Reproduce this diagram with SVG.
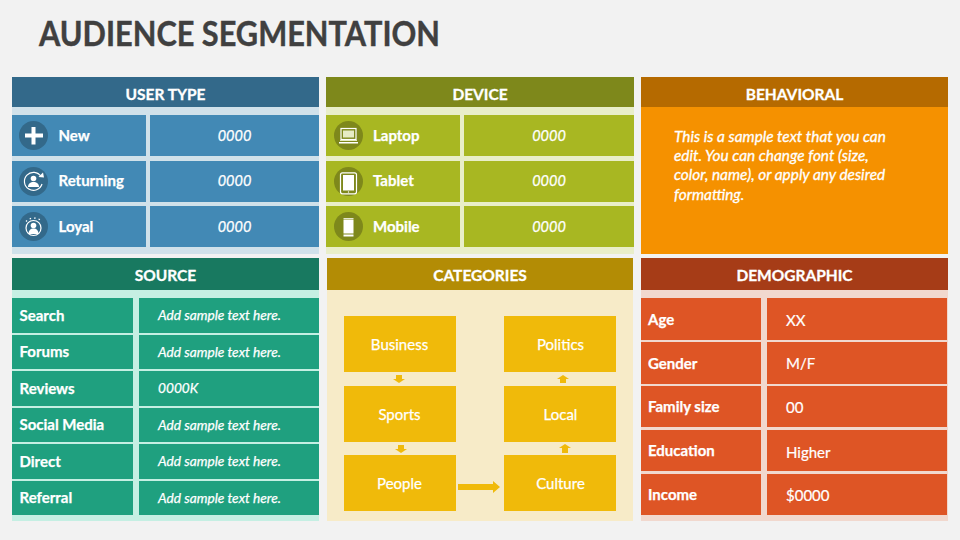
<svg xmlns="http://www.w3.org/2000/svg" width="960" height="540" viewBox="0 0 960 540">
<style>
text{font-family:"Lato","Open Sans","Liberation Sans",sans-serif;fill:#fff}
.t{font-size:33.500px;font-weight:700;fill:#404040;stroke:#404040;stroke-width:.4}
.h{font-size:15.500px;font-weight:700;text-anchor:middle;stroke:#fff;stroke-width:.3}
.b{font-size:15px;font-weight:700;stroke:#fff;stroke-width:.25}
.i{font-size:15.400px;font-style:italic;stroke:#fff;stroke-width:.3}
.ic{font-size:14.500px;font-style:italic;text-anchor:middle;stroke:#fff;stroke-width:.25}
.s{font-size:13.700px;font-style:italic;stroke:#fff;stroke-width:.25}
.r{font-size:15px;stroke:#fff;stroke-width:.2}
.c{font-size:15px;text-anchor:middle;stroke:#fff;stroke-width:.25}
.ub{fill:#4289b5}.ud{fill:#33698a}
.db{fill:#a8b722}.dd{fill:#7e881b}
.sb{fill:#1fa07f}.sd{fill:#187960}
.gb{fill:#de5525}.gd{fill:#a63c17}
.cb{fill:#f0ba0a}
.ln{fill:none;stroke:#fff;stroke-width:1.2}
.w{fill:#fff}
</style>
<rect width="960" height="540" fill="#f2f2f2"/>
<text class="t" x="39" y="46" textLength="401" lengthAdjust="spacingAndGlyphs">AUDIENCE SEGMENTATION</text>

<g id="user-type">
<rect x="12" y="107" width="307" height="147" fill="#d0e1ea"/>
<rect class="ud" x="12" y="77" width="307" height="30"/>
<text class="h" x="165.500" y="99.500">USER TYPE</text>
<rect class="ub" x="12" y="115" width="134" height="41"/><rect class="ub" x="150" y="115" width="169" height="41"/>
<rect class="ub" x="12" y="161" width="134" height="41"/><rect class="ub" x="150" y="161" width="169" height="41"/>
<rect class="ub" x="12" y="206" width="134" height="41"/><rect class="ub" x="150" y="206" width="169" height="41"/>
<circle class="ud" cx="33.500" cy="135.500" r="14.500"/><circle class="ud" cx="33.500" cy="181.500" r="14.500"/><circle class="ud" cx="33.500" cy="226.500" r="14.500"/>
<path class="w" d="M31.500 127h4v6.500h7.500v4h-7.500v7h-4v-7H25v-4h6.500z"/>
<path class="ln" d="M41 176.500A9 9 0 1 0 42 184"/><path class="w" d="M38.500 177l5.500 0.500-1-5z"/>
<circle class="w" cx="33.500" cy="178.500" r="2.800"/><path class="w" d="M28 187c0-3.500 2.500-5 5.500-5s5.500 1.500 5.500 5z"/>
<circle class="ln" cx="33.500" cy="228" r="7.500"/><circle class="w" cx="33.500" cy="225.500" r="2.800"/><path class="w" d="M28.500 234c0-3.500 2-5.500 5-5.500s5 2 5 5.500z"/>
<path class="ln" stroke-dasharray="1.500 3" stroke-width="1.600" d="M26 221.500A11 11 0 0 1 42 221.500"/>
<text class="b" x="58.500" y="141">New</text><text class="b" x="58.500" y="186">Returning</text><text class="b" x="58.500" y="232">Loyal</text>
<text class="ic" x="234.500" y="141">0000</text><text class="ic" x="234.500" y="186">0000</text><text class="ic" x="234.500" y="232">0000</text>
</g>

<g id="device">
<rect x="326" y="107" width="308" height="147" fill="#e9eec9"/>
<rect class="dd" x="326" y="77" width="308" height="30"/>
<text class="h" x="480" y="99.500">DEVICE</text>
<rect class="db" x="326" y="115" width="134" height="41"/><rect class="db" x="464" y="115" width="170" height="41"/>
<rect class="db" x="326" y="161" width="134" height="41"/><rect class="db" x="464" y="161" width="170" height="41"/>
<rect class="db" x="326" y="206" width="134" height="41"/><rect class="db" x="464" y="206" width="170" height="41"/>
<circle class="dd" cx="348.500" cy="135.500" r="14.500"/><circle class="dd" cx="348.500" cy="181.500" r="14.500"/><circle class="dd" cx="348.500" cy="226.500" r="14.500"/>
<rect class="ln" x="341" y="128.500" width="15" height="11"/><rect x="343" y="130.500" width="11" height="7" fill="#e6ebc4"/><rect class="w" x="339" y="142" width="19" height="1.500"/><rect x="340" y="140" width="17" height="1" fill="#e6ebc4"/>
<rect class="ln" x="340.500" y="172.800" width="16" height="21" rx="2"/><rect class="w" x="343" y="175" width="11" height="15.500"/><circle class="w" cx="348.500" cy="192" r=".7"/>
<rect class="w" x="343.500" y="219.500" width="10" height="14"/><rect class="w" x="343.500" y="218" width="10" height=".8"/><rect class="w" x="343.500" y="234.500" width="10" height="2"/>
<text class="b" x="373" y="141">Laptop</text><text class="b" x="373" y="186">Tablet</text><text class="b" x="373" y="232">Mobile</text>
<text class="ic" x="549" y="141">0000</text><text class="ic" x="549" y="186">0000</text><text class="ic" x="549" y="232">0000</text>
</g>

<g id="behavioral">
<rect x="641" y="107" width="307" height="147" fill="#f59100"/>
<rect x="641" y="77" width="307" height="30" fill="#b56a00"/>
<text class="h" x="794.500" y="99.500">BEHAVIORAL</text>
<text class="i" x="674" y="142">This is a sample text that you can</text>
<text class="i" x="674" y="161">edit. You can change font (size,</text>
<text class="i" x="674" y="180">color, name), or apply any desired</text>
<text class="i" x="674" y="200">formatting.</text>
</g>

<g id="source">
<rect x="12" y="290" width="307" height="231" fill="#c5efe3"/>
<rect class="sd" x="12" y="258" width="307" height="32"/>
<text class="h" x="165.500" y="280.500">SOURCE</text>
<rect class="sb" x="12" y="298" width="121" height="35"/><rect class="sb" x="139" y="298" width="180" height="35"/>
<rect class="sb" x="12" y="335" width="121" height="34"/><rect class="sb" x="139" y="335" width="180" height="34"/>
<rect class="sb" x="12" y="371" width="121" height="35"/><rect class="sb" x="139" y="371" width="180" height="35"/>
<rect class="sb" x="12" y="408" width="121" height="34"/><rect class="sb" x="139" y="408" width="180" height="34"/>
<rect class="sb" x="12" y="444" width="121" height="35"/><rect class="sb" x="139" y="444" width="180" height="35"/>
<rect class="sb" x="12" y="481" width="121" height="34"/><rect class="sb" x="139" y="481" width="180" height="34"/>
<text class="b" x="19.500" y="321">Search</text><text class="b" x="19.500" y="357">Forums</text><text class="b" x="19.500" y="394">Reviews</text><text class="b" x="19.500" y="430">Social Media</text><text class="b" x="19.500" y="467">Direct</text><text class="b" x="19.500" y="503">Referral</text>
<text class="s" x="158" y="320">Add sample text here.</text><text class="s" x="158" y="357">Add sample text here.</text><text class="s" x="158" y="393">0000K</text><text class="s" x="158" y="430">Add sample text here.</text><text class="s" x="158" y="466">Add sample text here.</text><text class="s" x="158" y="503">Add sample text here.</text>
</g>

<g id="categories">
<rect x="327" y="290" width="306" height="231" fill="#f7ebc8"/>
<rect x="327" y="258" width="306" height="32" fill="#b38c05"/>
<text class="h" x="480" y="280.500">CATEGORIES</text>
<g id="cat-business"><rect class="cb" x="344" y="316" width="112" height="56"/><text class="c" x="399.500" y="350">Business</text></g>
<g id="cat-sports"><rect class="cb" x="344" y="386" width="112" height="56"/><text class="c" x="399.500" y="420">Sports</text></g>
<g id="cat-people"><rect class="cb" x="344" y="455" width="112" height="56"/><text class="c" x="399.500" y="489">People</text></g>
<g id="cat-politics"><rect class="cb" x="504" y="316" width="112" height="56"/><text class="c" x="560.500" y="350">Politics</text></g>
<g id="cat-local"><rect class="cb" x="504" y="386" width="112" height="56"/><text class="c" x="560.500" y="420">Local</text></g>
<g id="cat-culture"><rect class="cb" x="504" y="455" width="112" height="56"/><text class="c" x="560.500" y="489">Culture</text></g>
</g>

<g id="demographic">
<rect x="641" y="290" width="307" height="231" fill="#f1d8ce"/>
<rect class="gd" x="641" y="258" width="307" height="32"/>
<text class="h" x="794.500" y="280.500">DEMOGRAPHIC</text>
<rect class="gb" x="641" y="298" width="120" height="42"/><rect class="gb" x="767" y="298" width="180" height="42"/>
<rect class="gb" x="641" y="342" width="120" height="42"/><rect class="gb" x="767" y="342" width="180" height="42"/>
<rect class="gb" x="641" y="386" width="120" height="41"/><rect class="gb" x="767" y="386" width="180" height="41"/>
<rect class="gb" x="641" y="430" width="120" height="41"/><rect class="gb" x="767" y="430" width="180" height="41"/>
<rect class="gb" x="641" y="474" width="120" height="41"/><rect class="gb" x="767" y="474" width="180" height="41"/>
<text class="b" x="648" y="325">Age</text><text class="b" x="648" y="369">Gender</text><text class="b" x="648" y="412">Family size</text><text class="b" x="648" y="456">Education</text><text class="b" x="648" y="500">Income</text>
<text class="r" x="786" y="326">XX</text><text class="r" x="786" y="369">M/F</text><text class="r" x="786" y="413">00</text><text class="r" x="786" y="458">Higher</text><text class="r" x="786" y="501">$0000</text>
</g>

<g id="connectors" class="cb">
<path d="M396 375h6v4h3l-6 4-6-4h3z"/>
<path d="M398 445h6v4h3l-6 4-6-4h3z"/>
<path d="M560 383v-4h-3l6-4 6 4h-3v4z"/>
<path d="M562 453v-5h-3l6-4 6 4h-3v5z"/>
<path d="M458 484h35v-3l7 6-7 6v-3h-35z"/>
</g>
</svg>
